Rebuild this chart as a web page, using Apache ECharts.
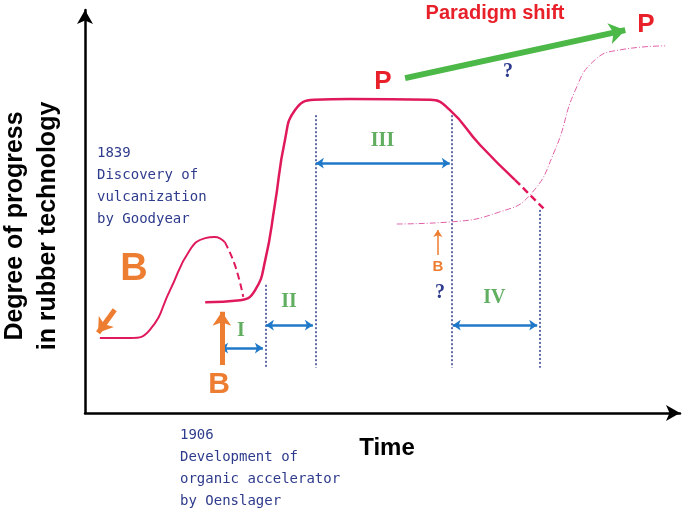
<!DOCTYPE html>
<html><head><meta charset="utf-8">
<script src="https://cdn.jsdelivr.net/npm/echarts@6/dist/echarts.min.js"></script>
<style>html,body{margin:0;padding:0;background:#fff}#c{width:685px;height:510px}</style>
</head><body><div id="c"></div>
<script>
// Conceptual curves (x: time 0-100, y: degree of progress 0-100)
const curve1Solid = [[2.5,18.6],[7.6,18.6],[10.9,20.6],[14.3,30.5],[17.6,40.4],[20.2,43.4],[21.8,43.7],[23.5,42.4]];
const curve1Dash = [[23.5,42.4],[25.2,36.7],[26.6,28.8]];
const curve2Solid = [[20.2,27.5],[26.1,28.0],[28.6,30.5],[30.3,38.0],[31.9,51.6],[33.6,67.7],[35.3,75.2],[38.5,77.7],[44.5,77.9],[58.0,77.7],[61.3,75.2],[66.4,66.5],[72.3,57.8]];
const curve2Dash = [[72.3,57.8],[77.3,50.4]];
const curve3 = [[52.4,46.9],[61.3,47.4],[69.7,49.9],[74.8,54.1],[79.0,65.3],[82.4,80.1],[85.7,87.6],[89.9,90.1],[97.5,91.1]];
const phaseLines = [[[30.3,31.8],[30.3,11.2]],[[38.7,73.9],[38.7,11.2]],[[61.7,73.9],[61.7,11.2]],[[76.5,50.4],[76.5,11.2]]];
const phaseArrows = [[[22.7,16.1],[29.9,16.1]],[[30.4,21.8],[38.3,21.8]],[[38.8,62.0],[61.3,62.0]],[[61.8,21.8],[76.0,21.8]]];
const phaseLabels = [["I",26.2,20.5],["II",34.3,27.5],["III",50.0,67.5],["IV",68.8,28.5]];
const bigBArrows = [[[5.0,25.6],[2.2,19.9]],[[23.0,11.9],[23.0,25.1]]];
const smallBArrow = [[[59.3,39.2],[59.3,45.4]]];
const shiftArrow = [[[53.8,83.1],[90.8,95.0]]];

const chart = echarts.init(document.getElementById('c'));
const red = '#E0195A', blue = '#1F78C8', orange = '#ED7D31', green = '#3A9A3A', navy = '#2E3B8C';
const mono = {fontFamily:'DejaVu Sans Mono', fontSize:14, lineHeight:22, fill:navy};
chart.setOption({
  animation:false,
  grid:{left:85,right:5,top:10,bottom:97},
  xAxis:{type:'value',min:0,max:100,axisLine:{lineStyle:{color:'#000',width:2.5},symbol:['none','arrow'],symbolSize:[12,14]},axisTick:{show:false},axisLabel:{show:false},splitLine:{show:false}},
  yAxis:{type:'value',min:0,max:100,axisLine:{show:true,lineStyle:{color:'#000',width:2.5},symbol:['none','arrow'],symbolSize:[12,14]},axisTick:{show:false},axisLabel:{show:false},splitLine:{show:false}},
  series:[
    {type:'line',data:curve1Solid,smooth:true,symbol:'none',lineStyle:{color:red,width:2}},
    {type:'line',data:curve1Dash,smooth:true,symbol:'none',lineStyle:{color:red,width:2,type:[7,4]}},
    {type:'line',data:curve2Solid,smooth:true,symbol:'none',lineStyle:{color:red,width:2.5}},
    {type:'line',data:curve2Dash,smooth:true,symbol:'none',lineStyle:{color:red,width:2.5,type:[7,4]}},
    {type:'line',data:curve3,smooth:true,symbol:'none',lineStyle:{color:'#E060A8',width:1,type:[6,2,1,2]}},
    {type:'lines',coordinateSystem:'cartesian2d',data:phaseLines.map(c=>({coords:c})),lineStyle:{color:navy,width:1.5,type:[2,2],opacity:1}},
    {type:'lines',coordinateSystem:'cartesian2d',symbol:['arrow','arrow'],symbolSize:8,data:phaseArrows.map(c=>({coords:c})),lineStyle:{color:blue,width:2.5,opacity:1}},
    {type:'lines',coordinateSystem:'cartesian2d',symbol:['none','arrow'],symbolSize:14,data:bigBArrows.map(c=>({coords:c})),lineStyle:{color:orange,width:5,opacity:1}},
    {type:'lines',coordinateSystem:'cartesian2d',symbol:['none','arrow'],symbolSize:7,data:smallBArrow.map(c=>({coords:c})),lineStyle:{color:orange,width:1.5,opacity:1}},
    {type:'lines',coordinateSystem:'cartesian2d',symbol:['none','arrow'],symbolSize:16,data:shiftArrow.map(c=>({coords:c})),lineStyle:{color:'#4CB848',width:6,opacity:1}},
    {type:'scatter',symbolSize:0,data:phaseLabels.map(l=>({value:[l[1],l[2]],name:l[0]})),
      label:{show:true,position:'inside',formatter:p=>p.name,color:green,fontFamily:'Liberation Serif',fontWeight:'bold',fontSize:20}}
  ],
  graphic:[
    {type:'text',left:97,top:142,style:Object.assign({text:'1839\nDiscovery of\nvulcanization\nby Goodyear'},mono)},
    {type:'text',left:180,top:424,style:Object.assign({text:'1906\nDevelopment of\norganic accelerator\nby Oenslager'},mono)},
    {type:'text',x:387,y:448,style:{text:'Time',fontFamily:'Liberation Sans',fontWeight:'bold',fontSize:24,fill:'#000',align:'center',verticalAlign:'middle'}},
    {type:'text',x:32,y:226,rotation:Math.PI/2,style:{text:'Degree of progress\nin rubber technology',fontFamily:'Liberation Sans',fontWeight:'bold',fontSize:25,lineHeight:33,fill:'#000',align:'center',verticalAlign:'middle'}},
    {type:'text',x:495,y:13,style:{text:'Paradigm shift',fontFamily:'Liberation Sans',fontWeight:'bold',fontSize:20,fill:'#E8202A',align:'center',verticalAlign:'middle'}},
    {type:'text',x:383,y:82,style:{text:'P',fontFamily:'Liberation Sans',fontWeight:'bold',fontSize:26,fill:'#E8202A',align:'center',verticalAlign:'middle'}},
    {type:'text',x:646,y:25,style:{text:'P',fontFamily:'Liberation Sans',fontWeight:'bold',fontSize:26,fill:'#E8202A',align:'center',verticalAlign:'middle'}},
    {type:'text',x:134,y:270,style:{text:'B',fontFamily:'Liberation Sans',fontWeight:'bold',fontSize:38,fill:orange,align:'center',verticalAlign:'middle'}},
    {type:'text',x:219,y:385,style:{text:'B',fontFamily:'Liberation Sans',fontWeight:'bold',fontSize:30,fill:orange,align:'center',verticalAlign:'middle'}},
    {type:'text',x:438,y:267,style:{text:'B',fontFamily:'Liberation Sans',fontWeight:'bold',fontSize:15,fill:orange,align:'center',verticalAlign:'middle'}},
    {type:'text',x:508,y:72,style:{text:'?',fontFamily:'Liberation Serif',fontWeight:'bold',fontSize:20,fill:navy,align:'center',verticalAlign:'middle'}},
    {type:'text',x:440,y:293,style:{text:'?',fontFamily:'Liberation Serif',fontWeight:'bold',fontSize:20,fill:navy,align:'center',verticalAlign:'middle'}}
  ]
});
</script></body></html>
